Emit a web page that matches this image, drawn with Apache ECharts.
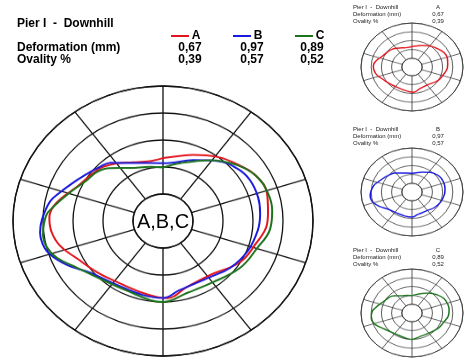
<!DOCTYPE html>
<html>
<head>
<meta charset="utf-8">
<script src="https://cdn.jsdelivr.net/npm/echarts@6.0.0/dist/echarts.min.js"></script>
<style>
html, body { margin: 0; padding: 0; background: #fff; }
#page { position: relative; width: 474px; height: 364px; overflow: hidden; }
.pol { position: absolute; }
#texts { position: absolute; left: 0; top: 0; width: 474px; height: 364px; }
</style>
</head>
<body>
<div id="page">
  <div id="big" class="pol"></div>
  <div id="smallA" class="pol"></div>
  <div id="smallB" class="pol"></div>
  <div id="smallC" class="pol"></div>
  <div id="texts"></div>
</div>
<script>
// profiles: angle (deg, clockwise from top) and radius (ring units)
const names = ['A', 'B', 'C'];
const deformation = [0.67, 0.97, 0.89];
const ovality = [0.39, 0.57, 0.52];
const colors = ['#e3161d', '#1a1ade', '#1c731c'];

const angleA = [0, 13, 22, 37, 53, 62, 73, 84, 92, 106, 121, 142, 162, 177, 184, 196, 214, 229, 244, 255, 264, 272, 278, 285, 294, 307, 315, 324, 335, 349];
const radA   = [2.33, 2.47, 2.64, 2.98, 3.33, 3.53, 3.62, 3.52, 3.47, 3.19, 2.98, 2.54, 2.57, 2.86, 2.82, 2.74, 2.73, 2.90, 3.18, 3.55, 3.74, 3.79, 3.70, 3.45, 3.13, 2.93, 2.83, 2.64, 2.40, 2.26];

const angleB = [0, 6, 24, 39, 52, 62, 74, 85, 96, 112, 128, 143, 168, 180, 194, 213, 232, 243, 252, 258, 264, 271, 281, 287, 298, 307, 314, 321, 333, 349];
const radB   = [2.14, 2.16, 2.47, 2.86, 3.15, 3.27, 3.29, 3.25, 3.18, 3.03, 2.83, 2.60, 2.62, 2.85, 2.82, 2.82, 3.10, 3.59, 3.97, 4.10, 4.12, 4.03, 3.83, 3.60, 3.24, 3.03, 2.90, 2.78, 2.41, 2.19];

const angleC = [0, 15, 35, 50, 62, 74, 84, 95, 108, 124, 144, 163, 180, 188, 203, 222, 239, 249, 256, 263, 273, 278, 289, 301, 310, 318, 331, 348];
const radC   = [1.98, 2.22, 2.75, 3.22, 3.53, 3.65, 3.66, 3.58, 3.29, 3.10, 2.81, 2.78, 3.00, 2.96, 2.85, 2.96, 3.35, 3.79, 3.99, 4.03, 3.90, 3.70, 3.27, 2.95, 2.85, 2.64, 2.25, 2.05];

function pairs(angles, radii) {
  const d = angles.map((a, i) => [radii[i], a]);
  d.push([radii[0], 360]);
  return d;
}
const profiles = [pairs(angleA, radA), pairs(angleB, radB), pairs(angleC, radC)];

function place(id, cx, cy, rx, ry) {
  const el = document.getElementById(id);
  const size = 2 * rx + 6;
  el.style.left = (cx - size / 2) + 'px';
  el.style.top = (cy - size / 2) + 'px';
  el.style.width = size + 'px';
  el.style.height = size + 'px';
  el.style.transform = 'scaleY(' + (ry / rx) + ')';
  el.style.transformOrigin = '50% 50%';
  return el;
}

function polarOption(rOuter, idx, gridColor, gridWidth, lineWidth) {
  return {
    animation: false,
    polar: { center: ['50%', '50%'], radius: [rOuter / 5, rOuter] },
    angleAxis: {
      type: 'value', min: 0, max: 360, interval: 36, startAngle: 90, clockwise: true,
      axisLine: { lineStyle: { color: gridColor, width: gridWidth } },
      axisTick: { show: false }, axisLabel: { show: false },
      splitLine: { show: true, lineStyle: { color: gridColor, width: gridWidth } }
    },
    radiusAxis: {
      type: 'value', min: 1, max: 5, interval: 1,
      axisLine: { show: false }, axisTick: { show: false }, axisLabel: { show: false },
      splitLine: { show: true, lineStyle: { color: gridColor, width: gridWidth } }
    },
    series: idx.map(i => ({
      type: 'line', coordinateSystem: 'polar', name: names[i],
      data: profiles[i], smooth: 0.4, showSymbol: false,
      lineStyle: { color: colors[i], width: lineWidth }, itemStyle: { color: colors[i] }
    }))
  };
}

echarts.init(place('big', 163, 221, 150, 135)).setOption(polarOption(150, [0, 1, 2], '#111', 1.3, 2));
echarts.init(place('smallA', 412, 67, 51, 44)).setOption(polarOption(51, [0], '#333', 0.8, 1.5));
echarts.init(place('smallB', 412, 192, 51, 44)).setOption(polarOption(51, [1], '#333', 0.8, 1.5));
echarts.init(place('smallC', 412, 313, 51, 44)).setOption(polarOption(51, [2], '#333', 0.8, 1.5));

// text layer
const fmt = v => v.toFixed(2).replace('.', ',');
const font = 'Liberation Sans, Arial, sans-serif';
const g = [];
function txt(x, y, s, size, weight, align, color) {
  g.push({ type: 'text', x: x, y: y, style: { text: s, fontFamily: font, fontSize: size, fontWeight: weight, fill: color || '#000', align: align || 'left', verticalAlign: 'middle' } });
}
txt(17, 24, 'Pier I  -  Downhill', 12, 'bold');
txt(17, 48, 'Deformation (mm)', 12, 'bold');
txt(17, 60, 'Ovality %', 12, 'bold');
const legX = [171, 233, 295];
const valX = [190, 252, 312];
names.forEach((n, i) => {
  g.push({ type: 'line', shape: { x1: legX[i], y1: 36, x2: legX[i] + 18, y2: 36 }, style: { stroke: colors[i], lineWidth: 2 } });
  txt(legX[i] + 25, 36, n, 12, 'bold', 'center');
  txt(valX[i], 48, fmt(deformation[i]), 12, 'bold', 'center');
  txt(valX[i], 60, fmt(ovality[i]), 12, 'bold', 'center');
});
txt(163, 222, 'A,B,C', 20, 'normal', 'center');
const blockY = [7, 129, 250];
names.forEach((n, i) => {
  const y = blockY[i];
  txt(353, y, 'Pier I  -  Downhill', 6, 'normal', 'left', '#222');
  txt(353, y + 7, 'Deformation (mm)', 6, 'normal', 'left', '#222');
  txt(353, y + 14, 'Ovality %', 6, 'normal', 'left', '#222');
  txt(438, y, n, 6, 'normal', 'center', '#222');
  txt(438, y + 7, fmt(deformation[i]), 6, 'normal', 'center', '#222');
  txt(438, y + 14, fmt(ovality[i]), 6, 'normal', 'center', '#222');
});
echarts.init(document.getElementById('texts')).setOption({ animation: false, graphic: g });
</script>
</body>
</html>
